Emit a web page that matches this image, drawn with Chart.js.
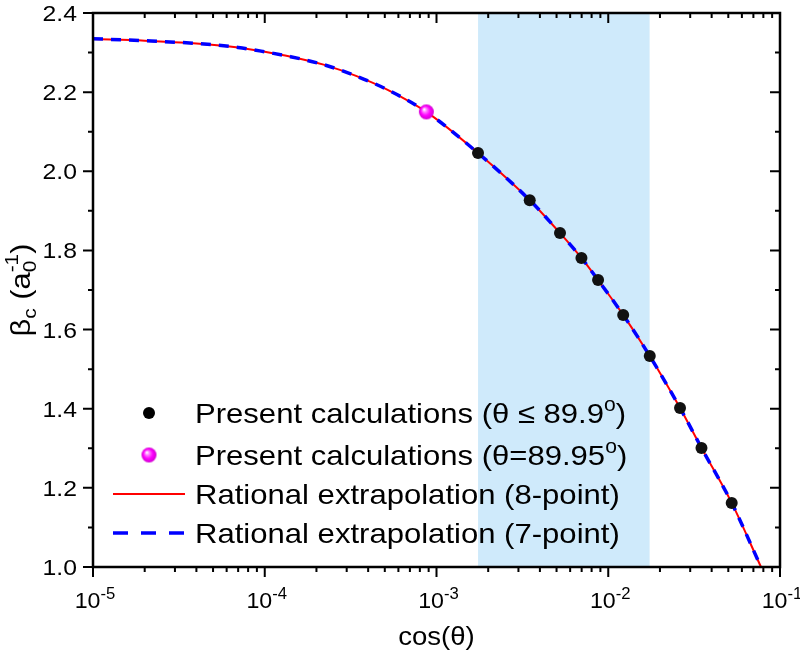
<!DOCTYPE html>
<html><head><meta charset="utf-8">
<script src="https://cdn.jsdelivr.net/npm/chart.js@4.4.0/dist/chart.umd.min.js"></script>
<style>html,body{margin:0;padding:0;background:#fff;}canvas{display:block}</style>
</head><body>
<canvas id="c" width="800" height="657"></canvas>
<script>
// ---------- data ----------
const xMin = 1e-5, xMax = 1e-1, yMin = 1.0, yMax = 2.4;
const xTickValues = [1e-5, 1e-4, 1e-3, 1e-2, 1e-1];
const xTickExponents = ['-5', '-4', '-3', '-2', '-1'];
const yTickValues = [1.0, 1.2, 1.4, 1.6, 1.8, 2.0, 2.2, 2.4];
const yTickLabels = ['1.0', '1.2', '1.4', '1.6', '1.8', '2.0', '2.2', '2.4'];

// Present calculations (theta <= 89.9 deg)
const calcX = [1.745e-3, 3.49e-3, 5.236e-3, 6.981e-3, 8.727e-3, 1.222e-2, 1.745e-2, 2.618e-2, 3.49e-2, 5.234e-2];
const calcY = [2.046, 1.927, 1.844, 1.781, 1.725, 1.637, 1.533, 1.402, 1.301, 1.162];
// Present calculations (theta = 89.95 deg)
const calc2X = [8.73e-4];
const calc2Y = [2.150];
// Rational extrapolation (8-point)
const fit8X = [1e-5, 2e-5, 4e-5, 7e-5, 1e-4, 1.4e-4, 2.2e-4, 3.4e-4, 5.3e-4, 8.73e-4, 1.745e-3, 3.49e-3, 5.236e-3, 6.981e-3, 8.727e-3, 1.222e-2, 1.745e-2, 2.618e-2, 3.49e-2, 5.234e-2, 7.75e-2];
const fit8Y = [2.334, 2.330, 2.323, 2.313, 2.302, 2.290, 2.2695, 2.241, 2.204, 2.150, 2.046, 1.927, 1.844, 1.781, 1.725, 1.637, 1.533, 1.402, 1.301, 1.162, 1.000];
// Rational extrapolation (7-point)
const fit7X = [1e-5, 2e-5, 4e-5, 7e-5, 1e-4, 1.4e-4, 2.2e-4, 3.4e-4, 5.3e-4, 8.73e-4, 1.745e-3, 3.49e-3, 5.236e-3, 6.981e-3, 8.727e-3, 1.222e-2, 1.745e-2, 2.618e-2, 3.49e-2, 5.234e-2, 7.75e-2];
const fit7Y = [2.335, 2.330, 2.323, 2.313, 2.302, 2.290, 2.2695, 2.241, 2.204, 2.150, 2.046, 1.927, 1.844, 1.781, 1.725, 1.637, 1.533, 1.402, 1.301, 1.162, 1.000];
// Shaded band
const shadeX = [1.745e-3, 1.745e-2];

const legendRows = [
  [{t:'Present calculations (θ ≤ 89.9'}, {t:'o', sup:true}, {t:')'}],
  [{t:'Present calculations (θ=89.95'}, {t:'o', sup:true}, {t:')'}],
  [{t:'Rational extrapolation (8-point)'}],
  [{t:'Rational extrapolation (7-point)'}]
];

// ---------- helpers ----------
const FONT = 'Arial, "Liberation Sans", sans-serif';
const pts = (xs, ys) => xs.map((x, i) => ({x, y: ys[i]}));

function makeSphere(r) {
  const c = document.createElement('canvas');
  c.width = c.height = Math.ceil(r * 2 + 2);
  const g = c.getContext('2d');
  const cx = c.width / 2, cy = c.height / 2;
  const grad = g.createRadialGradient(cx - r * 0.3, cy - r * 0.35, r * 0.05, cx, cy, r);
  grad.addColorStop(0, '#ffffff');
  grad.addColorStop(0.25, '#ff7dff');
  grad.addColorStop(0.6, '#ff00ff');
  grad.addColorStop(1, '#d000d0');
  g.fillStyle = grad;
  g.beginPath(); g.arc(cx, cy, r, 0, Math.PI * 2); g.fill();
  return c;
}
const sphereBig = makeSphere(7.5);

let SUPR = 0.68;
function segWidth(ctx, seg, size, sx) {
  if (seg.stack) {
    ctx.font = (size * SUPR) + 'px ' + FONT;
    return Math.max(ctx.measureText(seg.sub).width, ctx.measureText(seg.sup).width) * sx;
  }
  ctx.font = (seg.sup || seg.sub ? size * SUPR : size) + 'px ' + FONT;
  return ctx.measureText(seg.t).width * sx;
}
function putText(ctx, t, x, y, sx) {
  ctx.save(); ctx.translate(x, y); ctx.scale(sx, 1); ctx.fillText(t, 0, 0); ctx.restore();
}
// draws rich text; y is the baseline; align: 0 left, 0.5 centre, 1 right
function drawRich(ctx, segs, x, y, size, align, sx) {
  ctx.textBaseline = 'alphabetic'; ctx.textAlign = 'left';
  let total = 0;
  segs.forEach(s => total += segWidth(ctx, s, size, sx));
  let px = x - total * align;
  segs.forEach(s => {
    const w = segWidth(ctx, s, size, sx);
    if (s.stack) {
      ctx.font = (size * SUPR) + 'px ' + FONT;
      putText(ctx, s.sub, px, y + size * 0.22, sx);
      putText(ctx, s.sup, px, y - size * 0.42, sx);
    } else if (s.sup) {
      ctx.font = (size * SUPR) + 'px ' + FONT;
      putText(ctx, s.t, px, y - size * 0.42, sx);
    } else if (s.sub) {
      ctx.font = (size * SUPR) + 'px ' + FONT;
      putText(ctx, s.t, px, y + size * 0.22, sx);
    } else {
      ctx.font = size + 'px ' + FONT;
      putText(ctx, s.t, px, y, sx);
    }
    px += w;
  });
  return total;
}

const decorPlugin = {
  id: 'decor',
  afterDatasetsDraw(chart) {
    const ctx = chart.ctx;
    const a = chart.chartArea;
    const xs = chart.scales.x, ys = chart.scales.y;
    ctx.save();
    ctx.fillStyle = '#000'; ctx.strokeStyle = '#000';
    // frame
    ctx.lineWidth = 2.5;
    ctx.strokeRect(a.left, a.top, a.right - a.left, a.bottom - a.top);
    // ticks
    ctx.lineWidth = 2;
    ctx.beginPath();
    for (let e = -5; e <= -1; e++) {
      for (let k = 1; k <= 9; k++) {
        const v = k * Math.pow(10, e);
        if (v > xMax * 1.0001) break;
        const p = xs.getPixelForValue(v);
        const len = k === 1 ? 10 : 5;
        ctx.moveTo(p, a.bottom); ctx.lineTo(p, a.bottom + len);
        ctx.moveTo(p, a.top); ctx.lineTo(p, a.top + len);
      }
    }
    for (let i = 0; i <= 14; i++) {
      const v = yMin + i * 0.1;
      const p = ys.getPixelForValue(v);
      const len = i % 2 === 0 ? 10 : 5;
      ctx.moveTo(a.left, p); ctx.lineTo(a.left - len, p);
      ctx.moveTo(a.right, p); ctx.lineTo(a.right - len, p);
    }
    ctx.stroke();
    // y tick labels
    yTickValues.forEach((v, i) => {
      const p = ys.getPixelForValue(v);
      drawRich(ctx, [{t: yTickLabels[i]}], a.left - 16, p + 8, 22.5, 1, 1.1);
    });
    // x tick labels
    SUPR = 0.72;
    xTickValues.forEach((v, i) => {
      const p = xs.getPixelForValue(v);
      drawRich(ctx, [{t: '10'}, {t: xTickExponents[i], sup: true}], p + 2, a.bottom + 41, 22.5, 0.5, 1.03);
    });
    SUPR = 0.68;
    // x title
    drawRich(ctx, [{t: 'cos(θ)'}], (a.left + a.right) / 2, a.bottom + 78, 26, 0.5, 1.06);
    // y title
    ctx.save();
    ctx.translate(30, (a.top + a.bottom) / 2);
    ctx.rotate(-Math.PI / 2);
    drawRich(ctx, [{t: 'β'}, {t: 'c', sub: true}, {t: ' (a'}, {stack: true, sub: '0', sup: '-1'}, {t: ')'}], 0, 0, 28, 0.5, 1.1);
    ctx.restore();
    // legend
    const rowY = [413, 455, 494, 533];
    const mx = 149, lx0 = 113, lx1 = 185, tx = 195;
    ctx.fillStyle = '#000';
    ctx.beginPath(); ctx.arc(mx, rowY[0], 6, 0, Math.PI * 2); ctx.fill();
    ctx.drawImage(sphereBig, mx - sphereBig.width / 2, rowY[1] - sphereBig.height / 2);
    ctx.strokeStyle = '#ff0000'; ctx.lineWidth = 2;
    ctx.beginPath(); ctx.moveTo(lx0, rowY[2]); ctx.lineTo(lx1, rowY[2]); ctx.stroke();
    ctx.strokeStyle = '#0000ff'; ctx.lineWidth = 3.5; ctx.setLineDash([15, 13]);
    ctx.beginPath(); ctx.moveTo(lx0, rowY[3]); ctx.lineTo(lx1, rowY[3]); ctx.stroke();
    ctx.setLineDash([]);
    ctx.fillStyle = '#000';
    legendRows.forEach((segs, i) => drawRich(ctx, segs, tx, rowY[i] + 10, 28.5, 0, 1.09));
    ctx.restore();
  }
};

new Chart(document.getElementById('c'), {
  type: 'line',
  data: {
    datasets: [
      { label: 'Present calculations (θ=89.95°)', data: pts(calc2X, calc2Y), showLine: false,
        pointStyle: sphereBig, pointRadius: 7.5, order: 0 },
      { label: 'Present calculations (θ ≤ 89.9°)', data: pts(calcX, calcY), showLine: false,
        pointStyle: 'circle', pointRadius: 6, pointBackgroundColor: '#111111', pointBorderWidth: 0, order: 1 },
      { label: 'Rational extrapolation (7-point)', data: pts(fit7X, fit7Y), borderColor: '#0000ff',
        borderWidth: 3.5, borderDash: [10, 8], pointRadius: 0, cubicInterpolationMode: 'monotone', fill: false, order: 2 },
      { label: 'Rational extrapolation (8-point)', data: pts(fit8X, fit8Y), borderColor: '#ff0000',
        borderWidth: 2, pointRadius: 0, cubicInterpolationMode: 'monotone', fill: false, order: 3 },
      { label: 'band', data: shadeX.map(x => ({x, y: yMax})), borderWidth: 0, pointRadius: 0,
        backgroundColor: '#cfeafb', fill: 'start', order: 4 }
    ]
  },
  options: {
    responsive: false,
    animation: false,
    events: [],
    layout: { padding: { left: 93, right: 20, top: 13, bottom: 90 } },
    plugins: { legend: { display: false }, tooltip: { enabled: false } },
    scales: {
      x: { type: 'logarithmic', min: xMin, max: xMax, display: false },
      y: { type: 'linear', min: yMin, max: yMax, display: false }
    }
  },
  plugins: [decorPlugin]
});
</script>
</body></html>
